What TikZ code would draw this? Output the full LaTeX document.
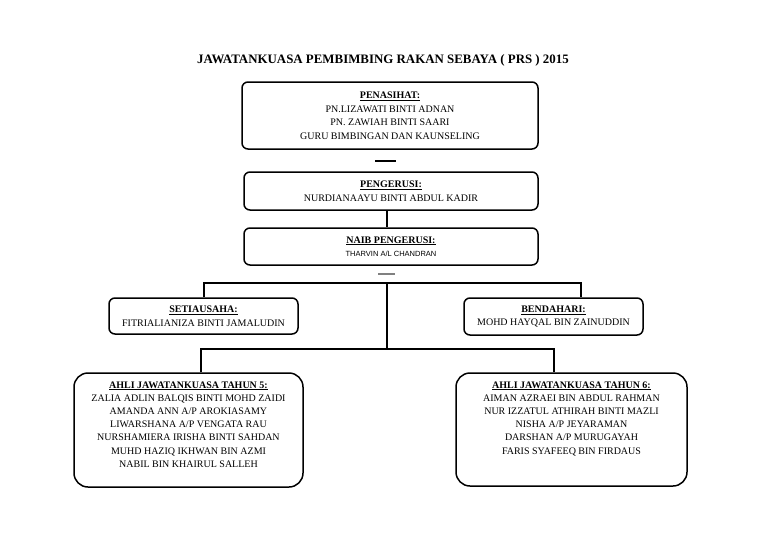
\documentclass[tikz,border=0pt]{standalone}
\usepackage{fontspec}
\setmainfont{Liberation Serif}
\newfontfamily\namafont{Liberation Sans}
\usetikzlibrary{positioning}
\newcommand{\tajukkecil}[1]{\underline{\textbf{#1}}}

\begin{document}
\begin{tikzpicture}[x=1pt,y=-1pt,
  kotak/.style={draw,line width=1.5pt,rounded corners=6pt,align=center,inner sep=2pt,
    font=\fontsize{10}{13.5}\selectfont},
  kotakbesar/.style={kotak,rounded corners=14pt},
  teks/.style={align=center,inner sep=0pt,font=\fontsize{10}{13.2}\selectfont},
  garis/.style={line width=1.6pt}]
\useasboundingbox (0,0) rectangle (768,543);
%-------->title<--------------
\node (tajuk) at (383,60) {\fontsize{12.9}{15}\selectfont\textbf{JAWATANKUASA PEMBIMBING RAKAN SEBAYA ( PRS ) 2015}};
%-------->boxes<--------------
\node[kotak,minimum width=296pt,minimum height=67pt] (pen) at (390,115.5)
  {\tajukkecil{PENASIHAT:}\\ PN.LIZAWATI BINTI ADNAN\\ PN. ZAWIAH BINTI SAARI\\ GURU BIMBINGAN DAN KAUNSELING};
\node[kotak,minimum width=294pt,minimum height=38pt] (peng) at (391,191)
  {\tajukkecil{PENGERUSI:}\\ NURDIANAAYU BINTI ABDUL KADIR};
\node[kotak,minimum width=294pt,minimum height=37pt] (naib) at (391,246.5)
  {\tajukkecil{NAIB PENGERUSI:}\\ {\namafont\fontsize{7.5}{9}\selectfont THARVIN A/L CHANDRAN}};
\node[kotak,minimum width=189pt,minimum height=36pt] (seti) at (203.5,316)
  {\tajukkecil{SETIAUSAHA:}\\ FITRIALIANIZA BINTI JAMALUDIN};
\node[kotak,minimum width=179pt,minimum height=37pt] (bend) at (553.5,316.5)
  {\tajukkecil{BENDAHARI:}\\ MOHD HAYQAL BIN ZAINUDDIN};
\node[kotakbesar,minimum width=229pt,minimum height=114pt] (thn5) at (188.5,430) {};
\node[kotakbesar,minimum width=231pt,minimum height=113pt] (thn6) at (571.5,429.5) {};
%-------->lists<--------------
\node[teks,below=9pt of thn5.north] (senarai5)
  {\tajukkecil{AHLI JAWATANKUASA  TAHUN 5:}\\ ZALIA ADLIN BALQIS BINTI MOHD ZAIDI\\ AMANDA ANN A/P AROKIASAMY\\
   LIWARSHANA A/P VENGATA RAU\\ NURSHAMIERA IRISHA BINTI SAHDAN\\ MUHD HAZIQ IKHWAN BIN AZMI\\ NABIL BIN KHAIRUL SALLEH};
\node[teks,below=9pt of thn6.north] (senarai6)
  {\tajukkecil{AHLI JAWATANKUASA  TAHUN 6:}\\ AIMAN AZRAEI BIN ABDUL RAHMAN\\ NUR IZZATUL ATHIRAH BINTI MAZLI\\
   NISHA A/P JEYARAMAN\\ DARSHAN A/P MURUGAYAH\\ FARIS SYAFEEQ BIN FIRDAUS};
%-------->dashes<--------------
\draw[garis] (375,161) -- (396,161);
\draw[line width=1.2pt,gray] (378,274) -- (395,274);
%-------->connectors<--------------
\coordinate (simpang1) at (387,283);
\coordinate (simpang2) at (387,349);
\draw[garis] ([xshift=-4pt]peng.south) -- ([xshift=-4pt]naib.north);
\draw[garis] ([xshift=0.5pt]seti.north) |- (simpang1) -| ([xshift=27.5pt]bend.north);
\draw[garis] (simpang1) -- (simpang2);
\draw[garis] ([xshift=12.5pt]thn5.north) |- (simpang2) -| ([xshift=-17.5pt]thn6.north);
\end{tikzpicture}
\end{document}
